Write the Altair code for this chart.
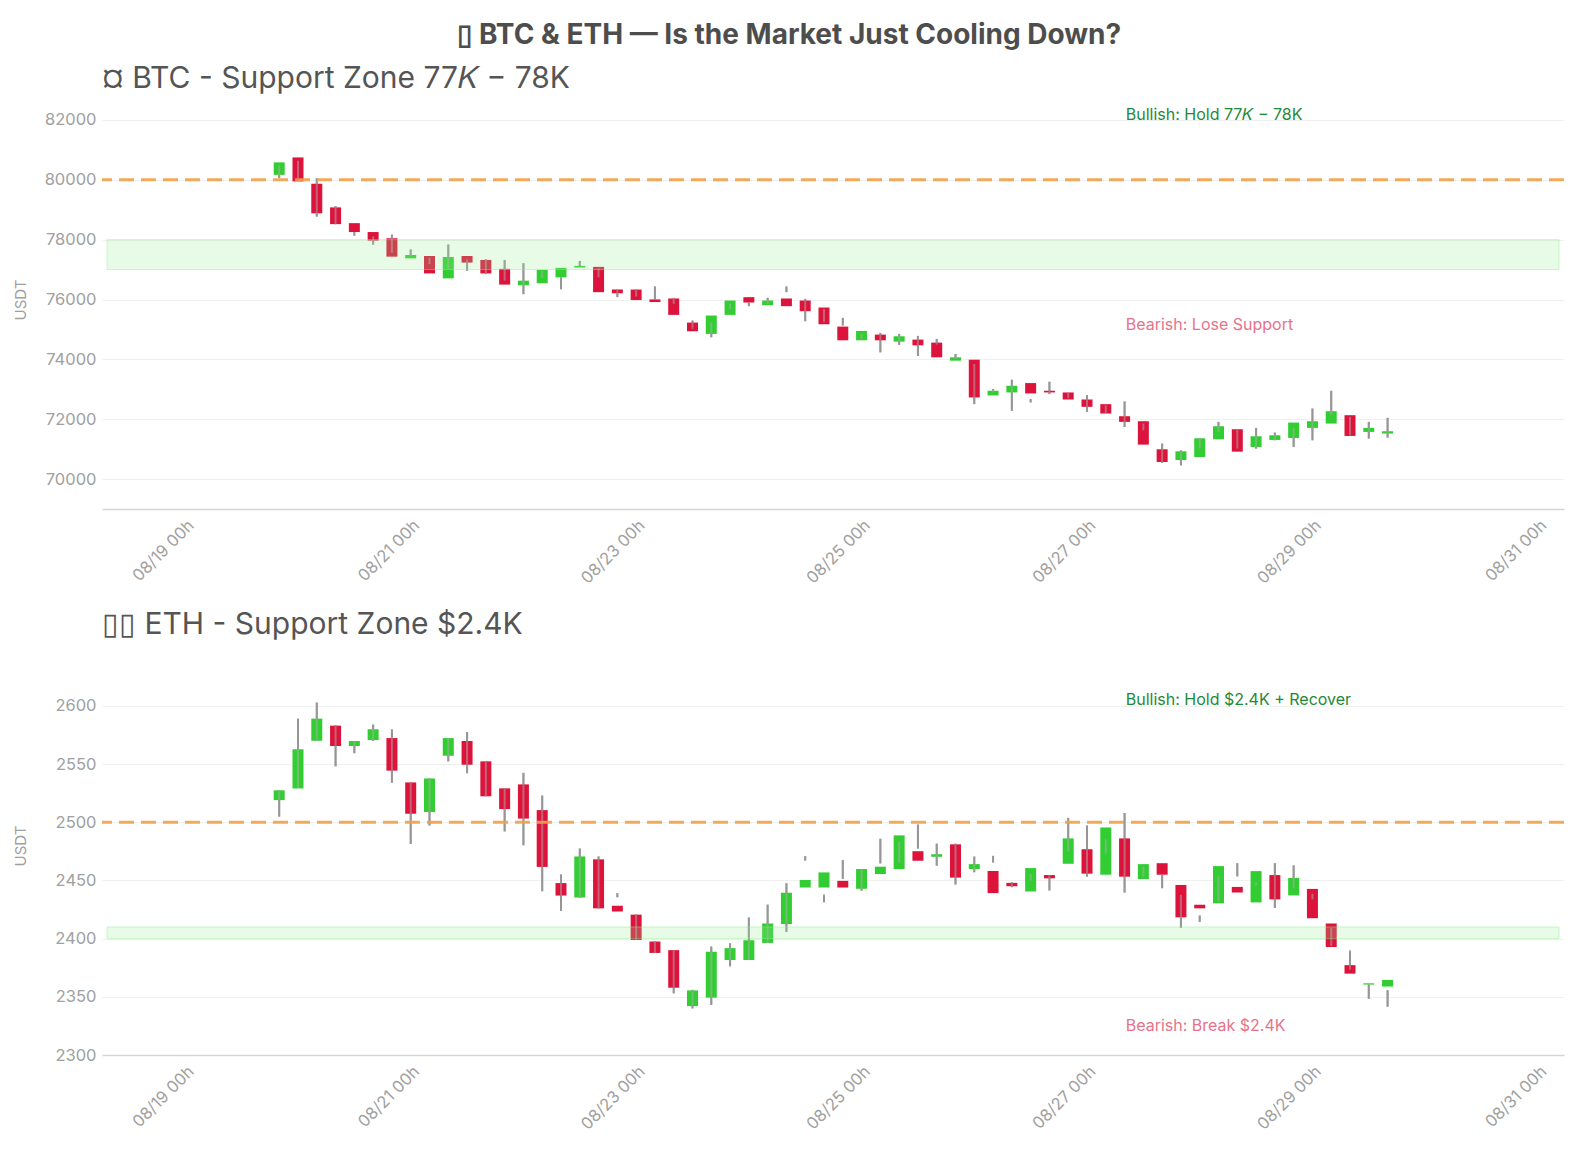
import altair as alt
import pandas as pd

# ---------------- data ----------------
start_time = "2025-08-19 20:00"
n_candles = 60

btc_open = [80165, 80747, 79868, 79078, 78551, 78254, 78046, 77376, 77453, 76706,
            77453, 77321, 77024, 76475, 76541, 76739, 77068, 77090, 76333, 76333,
            76003, 76034, 75229, 74850, 75486, 76078, 75810, 76034, 75966, 75732,
            75095, 74637, 74827, 74592, 74660, 74559, 73956, 73989, 72794, 72895,
            73207, 72951, 72894, 72659, 72503, 72100, 71933, 70995, 70637, 70738,
            71330, 71665, 71073, 71307, 71374, 71710, 71855, 72134, 71576, 71520]
btc_close = [80582, 79945, 78880, 78518, 78254, 77969, 77431, 77486, 76871, 77420,
             77233, 76871, 76497, 76629, 76991, 77057, 77123, 76245, 76212, 75981,
             75915, 75486, 74939, 75464, 75966, 75899, 75966, 75777, 75609, 75173,
             74637, 74950, 74637, 74771, 74470, 74068, 74068, 72727, 72951, 73118,
             72861, 72895, 72659, 72413, 72190, 71911, 71151, 70570, 70928, 71363,
             71765, 70916, 71430, 71464, 71888, 71933, 72268, 71441, 71710, 71598]
btc_high = [80472, 80637, 80055, 79122, 78254, 78111, 78166, 77672, 77398, 77837,
            77343, 77343, 77321, 77211, 76958, 76739, 77288, 77046, 76333, 76333,
            76436, 76056, 75296, 75240, 75855, 75899, 76056, 76436, 76022, 75687,
            75386, 74850, 74883, 74850, 74783, 74682, 74179, 73844, 73006, 73319,
            72671, 73252, 72880, 72804, 72469, 72592, 71855, 71185, 70961, 71363,
            71911, 71665, 71710, 71553, 71721, 72357, 72949, 72078, 71911, 72045]
btc_low = [80055, 80055, 78770, 78518, 78133, 77837, 77562, 77453, 77178, 77014,
           76959, 76849, 76629, 76179, 76717, 76343, 77101, 76739, 76080, 76100,
           75992, 75855, 75017, 74738, 75687, 75777, 75855, 76246, 75274, 75240,
           75129, 74682, 74235, 74481, 74112, 74492, 74012, 72504, 72895, 72281,
           72560, 72839, 72700, 72246, 72212, 71743, 71631, 70537, 70459, 71017,
           71576, 71017, 71017, 71296, 71073, 71296, 72134, 71464, 71352, 71386]

eth_open = [2519, 2529, 2570, 2583, 2565.5, 2570.6, 2572.3, 2534.2, 2508.8, 2557.1,
            2569.8, 2552.3, 2529.1, 2532.5, 2510.4, 2447.7, 2435.3, 2468.1, 2428.2, 2420.6,
            2397.5, 2390.1, 2342, 2349.3, 2381.6, 2381.6, 2396.3, 2412.5, 2443.9, 2443.9,
            2449.6, 2442.8, 2455.5, 2459.8, 2475.1, 2470.3, 2481.0, 2459.8, 2458.1, 2447.9,
            2440.5, 2454.6, 2464.3, 2476.8, 2454.9, 2486.1, 2451.2, 2464.8, 2446.1, 2429.1,
            2430.3, 2444.4, 2431.1, 2454.6, 2437.1, 2442.7, 2413.0, 2377.2, 2360.5, 2358.8]
eth_close = [2527.4, 2562.7, 2589.0, 2565.5, 2569.8, 2579.9, 2544.3, 2507.3, 2537.6, 2572.3,
             2549.4, 2522.3, 2511.3, 2503.1, 2461.6, 2437.0, 2470.6, 2426.0, 2423.4, 2398.9,
             2387.7, 2357.8, 2355.5, 2388.7, 2391.8, 2398.6, 2413.0, 2439.4, 2450.4, 2456.9,
             2443.9, 2459.8, 2461.8, 2488.7, 2466.9, 2472.5, 2452.4, 2464.0, 2439.1, 2445.0,
             2460.6, 2451.8, 2486.1, 2455.8, 2495.5, 2453.2, 2464.0, 2454.9, 2418.3, 2426.0,
             2462.3, 2439.6, 2458.0, 2433.7, 2452.1, 2417.5, 2392.8, 2369.9, 2361.6, 2364.5]
eth_high = [2527.4, 2589.0, 2602.8, 2583.3, 2569.8, 2583.9, 2579.7, 2534.2, 2537.6, 2572.3,
            2577.4, 2552.3, 2529.1, 2542.4, 2522.9, 2455.1, 2477.4, 2470.6, 2439.0, 2420.6,
            2397.5, 2390.1, 2356.0, 2393.2, 2396.0, 2418.1, 2429.2, 2447.6, 2470.8, 2437.7,
            2467.4, 2459.8, 2485.8, 2483.6, 2498.0, 2481.6, 2481.6, 2470.5, 2471.1, 2448.4,
            2455.5, 2454.6, 2503.7, 2497.2, 2485.3, 2507.9, 2462.0, 2454.9, 2437.6, 2419.8,
            2453.5, 2464.8, 2448.4, 2464.8, 2462.9, 2438.5, 2409.3, 2389.7, 2360.5, 2355.7]
eth_low = [2504.8, 2529.4, 2569.8, 2548.0, 2559.3, 2569.8, 2533.9, 2481.3, 2497.2, 2552.3,
           2542.1, 2522.3, 2492.1, 2480.2, 2440.7, 2423.7, 2435.3, 2426.0, 2435.6, 2398.9,
           2387.7, 2353.0, 2340.0, 2343.1, 2376.2, 2381.6, 2396.3, 2405.7, 2467.0, 2431.2,
           2451.3, 2441.1, 2464.6, 2465.4, 2477.3, 2462.6, 2446.5, 2457.0, 2465.4, 2444.2,
           2449.9, 2441.3, 2474.8, 2453.2, 2473.1, 2439.6, 2452.6, 2443.3, 2409.3, 2414.4,
           2432.0, 2453.5, 2445.6, 2426.3, 2443.3, 2433.7, 2393.7, 2373.3, 2348.3, 2341.5]

btc_domain = [69000, 83000]
eth_domain = [2300, 2660]
btc_ticks = [70000, 72000, 74000, 76000, 78000, 80000, 82000]
eth_ticks = [2300, 2350, 2400, 2450, 2500, 2550, 2600]
btc_zone = [77000, 78000]
eth_zone = [2400, 2410]
btc_level = 80000
eth_level = 2500

btc_bull_text = "Bullish: Hold 77\U0001D43E \u2212 78K"
btc_bear_text = "Bearish: Lose Support"
eth_bull_text = "Bullish: Hold $2.4K + Recover"
eth_bear_text = "Bearish: Break $2.4K"
btc_ann_y = [82150, 75150]
eth_ann_y = [2605, 2325]
ann_time = "2025-08-27T08:15:00"

main_title = "\u25AF BTC & ETH \u2014 Is the Market Just Cooling Down?"
btc_title = "\u00a4 BTC - Support Zone 77\U0001D43E \u2212 78K"
eth_title = "\u25AF\u25AF ETH - Support Zone $2.4K"

x_start = alt.DateTime(year=2025, month=8, date=18, hours=7, minutes=20)
x_end = alt.DateTime(year=2025, month=8, date=31, hours=4, minutes=30)
x_tick_days = [19, 21, 23, 25, 27, 29, 31]

# ---------------- style ----------------
FONT = "Inter"
GREEN = "#32CD32"
RED = "#DC143C"
GRAY_TXT = "#a0a0a0"
W, H = 1462, 419

times = pd.date_range(start_time, periods=n_candles, freq="4h").strftime("%Y-%m-%dT%H:%M:%S").tolist()


def make_df(o, h, l, c):
    return pd.DataFrame({
        "t": times, "o": o, "h": h, "l": l, "c": c,
        "dir": ["up" if cc >= oo else "down" for oo, cc in zip(o, c)],
    })


x_axis = alt.Axis(
    values=[alt.DateTime(year=2025, month=8, date=d, hours=0) for d in x_tick_days],
    format="%m/%d %Hh", labelAngle=-45, labelColor=GRAY_TXT, labelFontSize=16.5,
    labelFont=FONT, ticks=False, grid=False, domainColor="#d6d6d6", domainWidth=1.5,
    labelPadding=8, title=None,
)


def panel(df, domain, ticks, zone, level, ann_y, bull, bear, title):
    x_enc = alt.X("t:T", scale=alt.Scale(domain=[x_start, x_end]), axis=x_axis)
    y_axis = alt.Axis(values=ticks, format="d", labelColor=GRAY_TXT, labelFontSize=16.5,
                      labelFont=FONT, ticks=False, domain=False, gridColor="#f0f0f0",
                      labelPadding=6, title="USDT", titleColor=GRAY_TXT,
                      titleFontWeight="normal", titleFontSize=15, titleFont=FONT,
                      minExtent=64, maxExtent=64, titlePadding=10)
    base = alt.Chart(df)
    wick_under = base.mark_rule(color="#7c7c7c", strokeWidth=2).encode(
        x=x_enc,
        y=alt.Y("l:Q", scale=alt.Scale(domain=domain, nice=False, zero=False), axis=y_axis),
        y2="h:Q",
    )
    body = base.mark_bar(size=11).encode(
        x="t:T", y="o:Q", y2="c:Q",
        color=alt.Color("dir:N", scale=alt.Scale(domain=["up", "down"], range=[GREEN, RED]), legend=None),
    )
    wick_over = base.mark_rule(color="#b0b0b0", strokeWidth=2, opacity=0.5).encode(
        x="t:T", y="l:Q", y2="h:Q")
    zone_df = pd.DataFrame({"y0": [zone[0]], "y1": [zone[1]]})
    zone_rect = alt.Chart(zone_df).mark_rect(
        fill="lightgreen", fillOpacity=0.22, stroke="#90ee90", strokeWidth=1, strokeOpacity=0.45
    ).encode(x=alt.datum(x_start), x2=alt.datum(x_end), y="y0:Q", y2="y1:Q")
    level_rule = alt.Chart(pd.DataFrame({"v": [level]})).mark_rule(
        color="#F0A04B", strokeWidth=3, strokeDash=[15, 7], opacity=0.9
    ).encode(y="v:Q")
    ann_df = pd.DataFrame({"t": [ann_time, ann_time], "v": ann_y, "label": [bull, bear],
                           "kind": ["bull", "bear"]})
    ann = alt.Chart(ann_df).mark_text(align="left", baseline="middle", fontSize=16, font=FONT).encode(
        x="t:T", y="v:Q", text="label:N",
        color=alt.Color("kind:N", scale=alt.Scale(domain=["bull", "bear"], range=["#1e8a36", "#e8728a"]),
                        legend=None),
    )
    return alt.layer(wick_under, body, wick_over, zone_rect, level_rule, ann).resolve_scale(
        color="independent"
    ).properties(
        width=W, height=H,
        title=alt.TitleParams(title, anchor="start", frame="group", fontSize=30, fontWeight="normal",
                              color="#555555", font=FONT, offset=-4),
    )


btc = panel(make_df(btc_open, btc_high, btc_low, btc_close), btc_domain, btc_ticks, btc_zone,
            btc_level, btc_ann_y, btc_bull_text, btc_bear_text, btc_title)
eth = panel(make_df(eth_open, eth_high, eth_low, eth_close), eth_domain, eth_ticks, eth_zone,
            eth_level, eth_ann_y, eth_bull_text, eth_bear_text, eth_title)

chart = alt.vconcat(btc, eth, spacing=23).properties(
    title=alt.TitleParams(main_title, anchor="middle", fontSize=28, fontWeight="bold",
                          color="#4d4d4d", font=FONT, offset=14),
    background="white",
    padding={"top": 14, "left": 5, "right": 2, "bottom": 5},
).configure(font=FONT).configure_view(strokeWidth=0, stroke=None)

chart.save("out.html", embed_options={"renderer": "svg", "actions": False})
